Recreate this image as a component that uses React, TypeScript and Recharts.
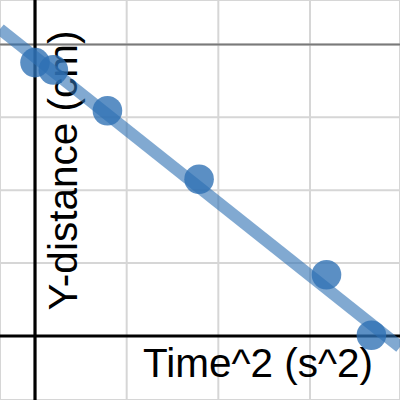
import React from 'react';
import {
  ComposedChart,
  Scatter,
  XAxis,
  YAxis,
  CartesianGrid,
  ReferenceLine,
  Customized,
} from 'recharts';

const timeSq = [0, 0.2, 0.79, 1.79, 3.18, 3.67];
const yDist = [3.75, 3.65, 3.09, 2.15, 0.84, 0.01];
const fitX = [-0.382, 3.982];
const fitY = [4.21, -0.15];
const xTicks = [0, 1, 2, 3, 4];
const yTicks = [0, 1, 2, 3, 4];
const xLabel = 'Time^2 (s^2)';
const yLabel = 'Y-distance (cm)';

const points = timeSq.map((x, i) => ({ x, y: yDist[i] }));
const fit = fitX.map((x, i) => ({ x, y: fitY[i] }));

const FONT = '"Liberation Sans", Arial, sans-serif';

const Labels = () => (
  <g>
    <text x={143} y={377} fontSize={40.5} fontFamily={FONT} fill="#000">
      {xLabel}
    </text>
    <text
      x={77}
      y={170.5}
      fontSize={40.5}
      fontFamily={FONT}
      fill="#000"
      textAnchor="middle"
      transform="rotate(-90 77 170.5)"
    >
      {yLabel}
    </text>
  </g>
);

const Dot = (props: any) => {
  const { cx, cy } = props;
  if (cx == null || cy == null) return null;
  return <circle cx={cx} cy={cy} r={14.8} fill="#2d70b3" fillOpacity={0.78} />;
};

export default function App() {
  return (
    <div style={{ position: 'absolute', left: 0, top: 0, width: 400, height: 400, background: '#fff' }}>
      <ComposedChart width={400} height={400} margin={{ top: 0, right: 0, bottom: 0, left: 0 }}>
        <XAxis
          type="number"
          dataKey="x"
          domain={[-0.382, 3.982]}
          ticks={xTicks}
          allowDataOverflow
          hide
        />
        <YAxis
          type="number"
          dataKey="y"
          domain={[-0.878, 4.609]}
          ticks={yTicks}
          allowDataOverflow
          hide
        />
        <CartesianGrid stroke="#d6d6d6" strokeWidth={2} />
        <ReferenceLine y={4} stroke="#7a7a7a" strokeWidth={2} />
        <ReferenceLine x={0} stroke="#000" strokeWidth={3.2} />
        <ReferenceLine y={0} stroke="#000" strokeWidth={3.2} />
        <Customized component={Labels} />
        <Scatter
          data={fit}
          line={{ stroke: '#2d70b3', strokeWidth: 12, strokeOpacity: 0.6 }}
          shape={() => null}
          isAnimationActive={false}
        />
        <Scatter data={points} shape={Dot} isAnimationActive={false} />
      </ComposedChart>
    </div>
  );
}
